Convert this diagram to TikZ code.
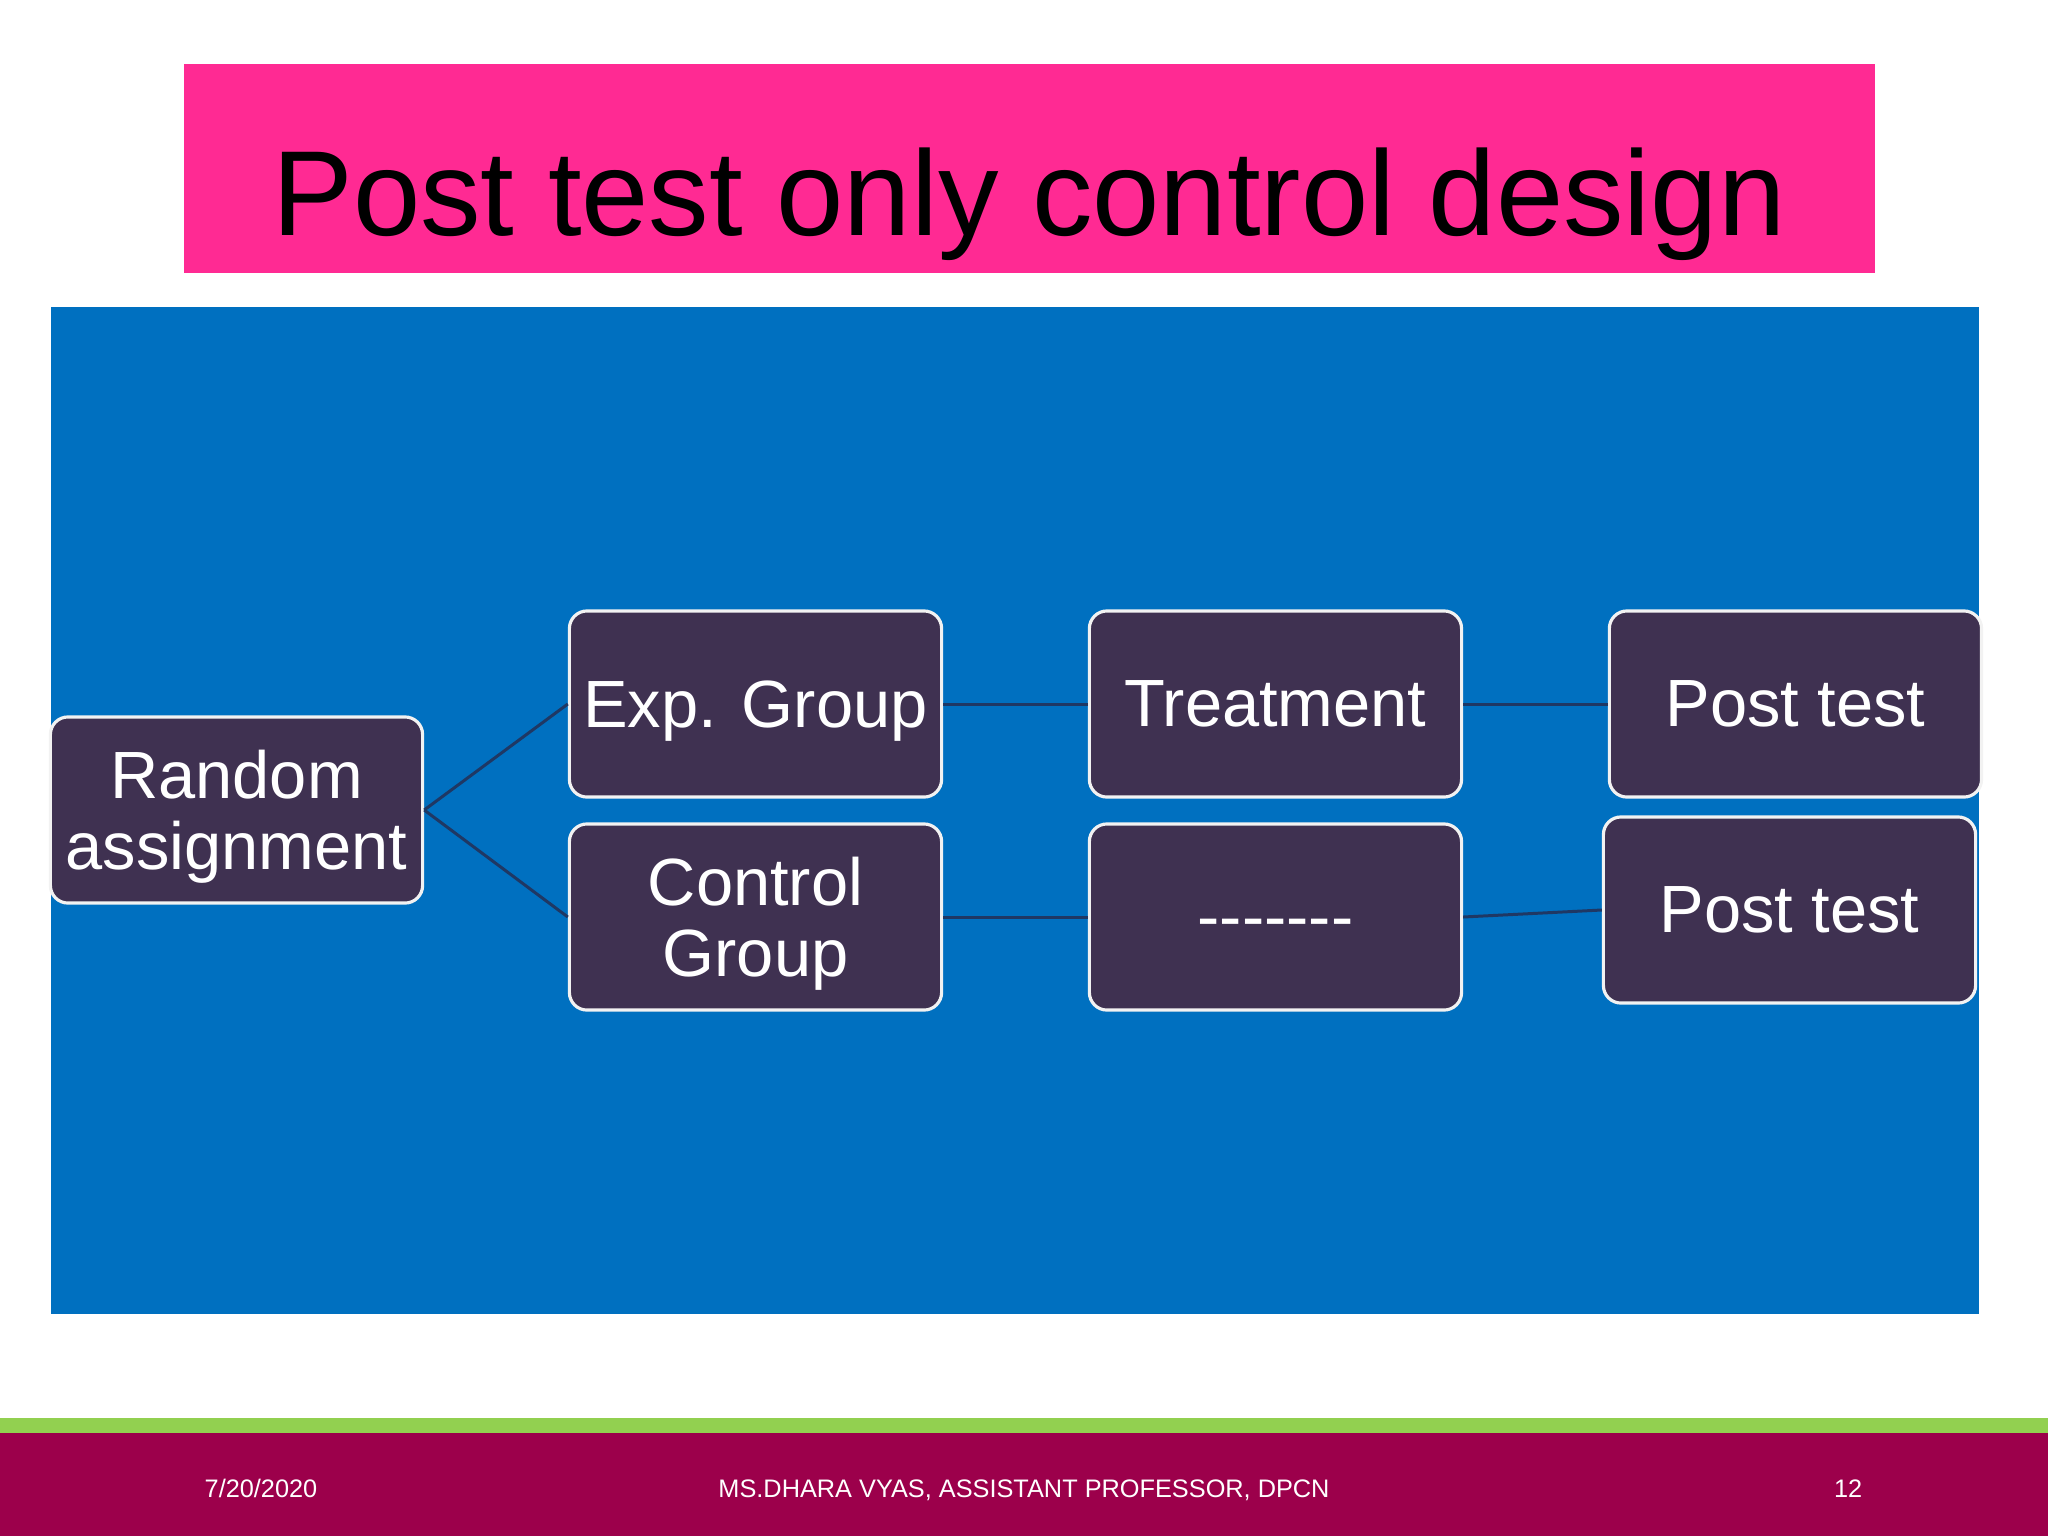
\documentclass[tikz,border=0pt]{standalone}
\usepackage{fontspec}
\setmainfont{Liberation Sans}
\usetikzlibrary{positioning}
\definecolor{slidepink}{HTML}{FF2A93}
\definecolor{slideblue}{HTML}{0070C0}
\definecolor{slidegreen}{HTML}{92D050}
\definecolor{slidemaroon}{HTML}{9C004B}
\definecolor{boxfill}{HTML}{3F3151}
\definecolor{boxedge}{HTML}{F2F2F2}
\definecolor{linknavy}{HTML}{1F3864}
\newcommand\blankrun{\vphantom{T}\mbox{-}\mbox{-}\mbox{-}\mbox{-}\mbox{-}\mbox{-}\mbox{-}}
\tikzset{
  designpicture/.style={x=0.01cm, y=-0.01cm, node distance=1.445cm and 1.445cm},
  designbox/.style={draw=boxedge, line width=0.9pt, fill=boxfill, rounded corners=5pt, align=center, text=white, font=\fontsize{19}{20.2}\selectfont, inner sep=2pt, text depth=0pt, minimum width=3.72cm, minimum height=1.86cm},
  designlink/.style={draw=linknavy, line width=0.85pt},
  footertext/.style={text=white, font=\fontsize{7.2}{8}\selectfont, inner sep=0pt, anchor=base}
}
\begin{document}
\begin{tikzpicture}[designpicture]
\useasboundingbox (0,0) rectangle (2048,1536);
\fill[white] (0,0) rectangle (2048,1536);
% title bar
\node[fill=slidepink, inner sep=0pt, minimum width=16.9cm, minimum height=2.09cm] (titlebar) at (1029,168.5) {};
\node[font=\fontsize{34.4}{40}\selectfont, inner sep=0pt, anchor=base] (title) at (1029,235) {Post test only control design};
% diagram panel
\fill[slideblue] (51,307) rectangle (1979,1314);
\node[designbox] (random) at (236.5,810) {Random\\assignment};
\node[designbox] (exp) at (755.5,704) {Exp. Group};
\node[designbox] (control) at (755.5,917) {Control\\Group};
\node[designbox, right=of exp] (treat) {Treatment};
\node[designbox, right=of control] (blank) {\blankrun};
\node[designbox, right=of treat] (post1) {Post test};
\node[designbox] (post2) at (1789.5,910) {Post test};
\draw[designlink] (random.east) -- (exp.west);
\draw[designlink] (random.east) -- (control.west);
\draw[designlink] (exp) -- (treat);
\draw[designlink] (treat) -- (post1);
\draw[designlink] (control) -- (blank);
\draw[designlink] (blank.east) -- (post2.west);
% footer
\fill[slidegreen] (0,1418) rectangle (2048,1433);
\fill[slidemaroon] (0,1433) rectangle (2048,1536);
\node[footertext] (date) at (261,1497) {7/20/2020};
\node[footertext] (author) at (1024,1497) {MS.DHARA VYAS, ASSISTANT PROFESSOR, DPCN};
\node[footertext, anchor=base east] (page) at (1863,1497) {12};
\end{tikzpicture}
\end{document}
